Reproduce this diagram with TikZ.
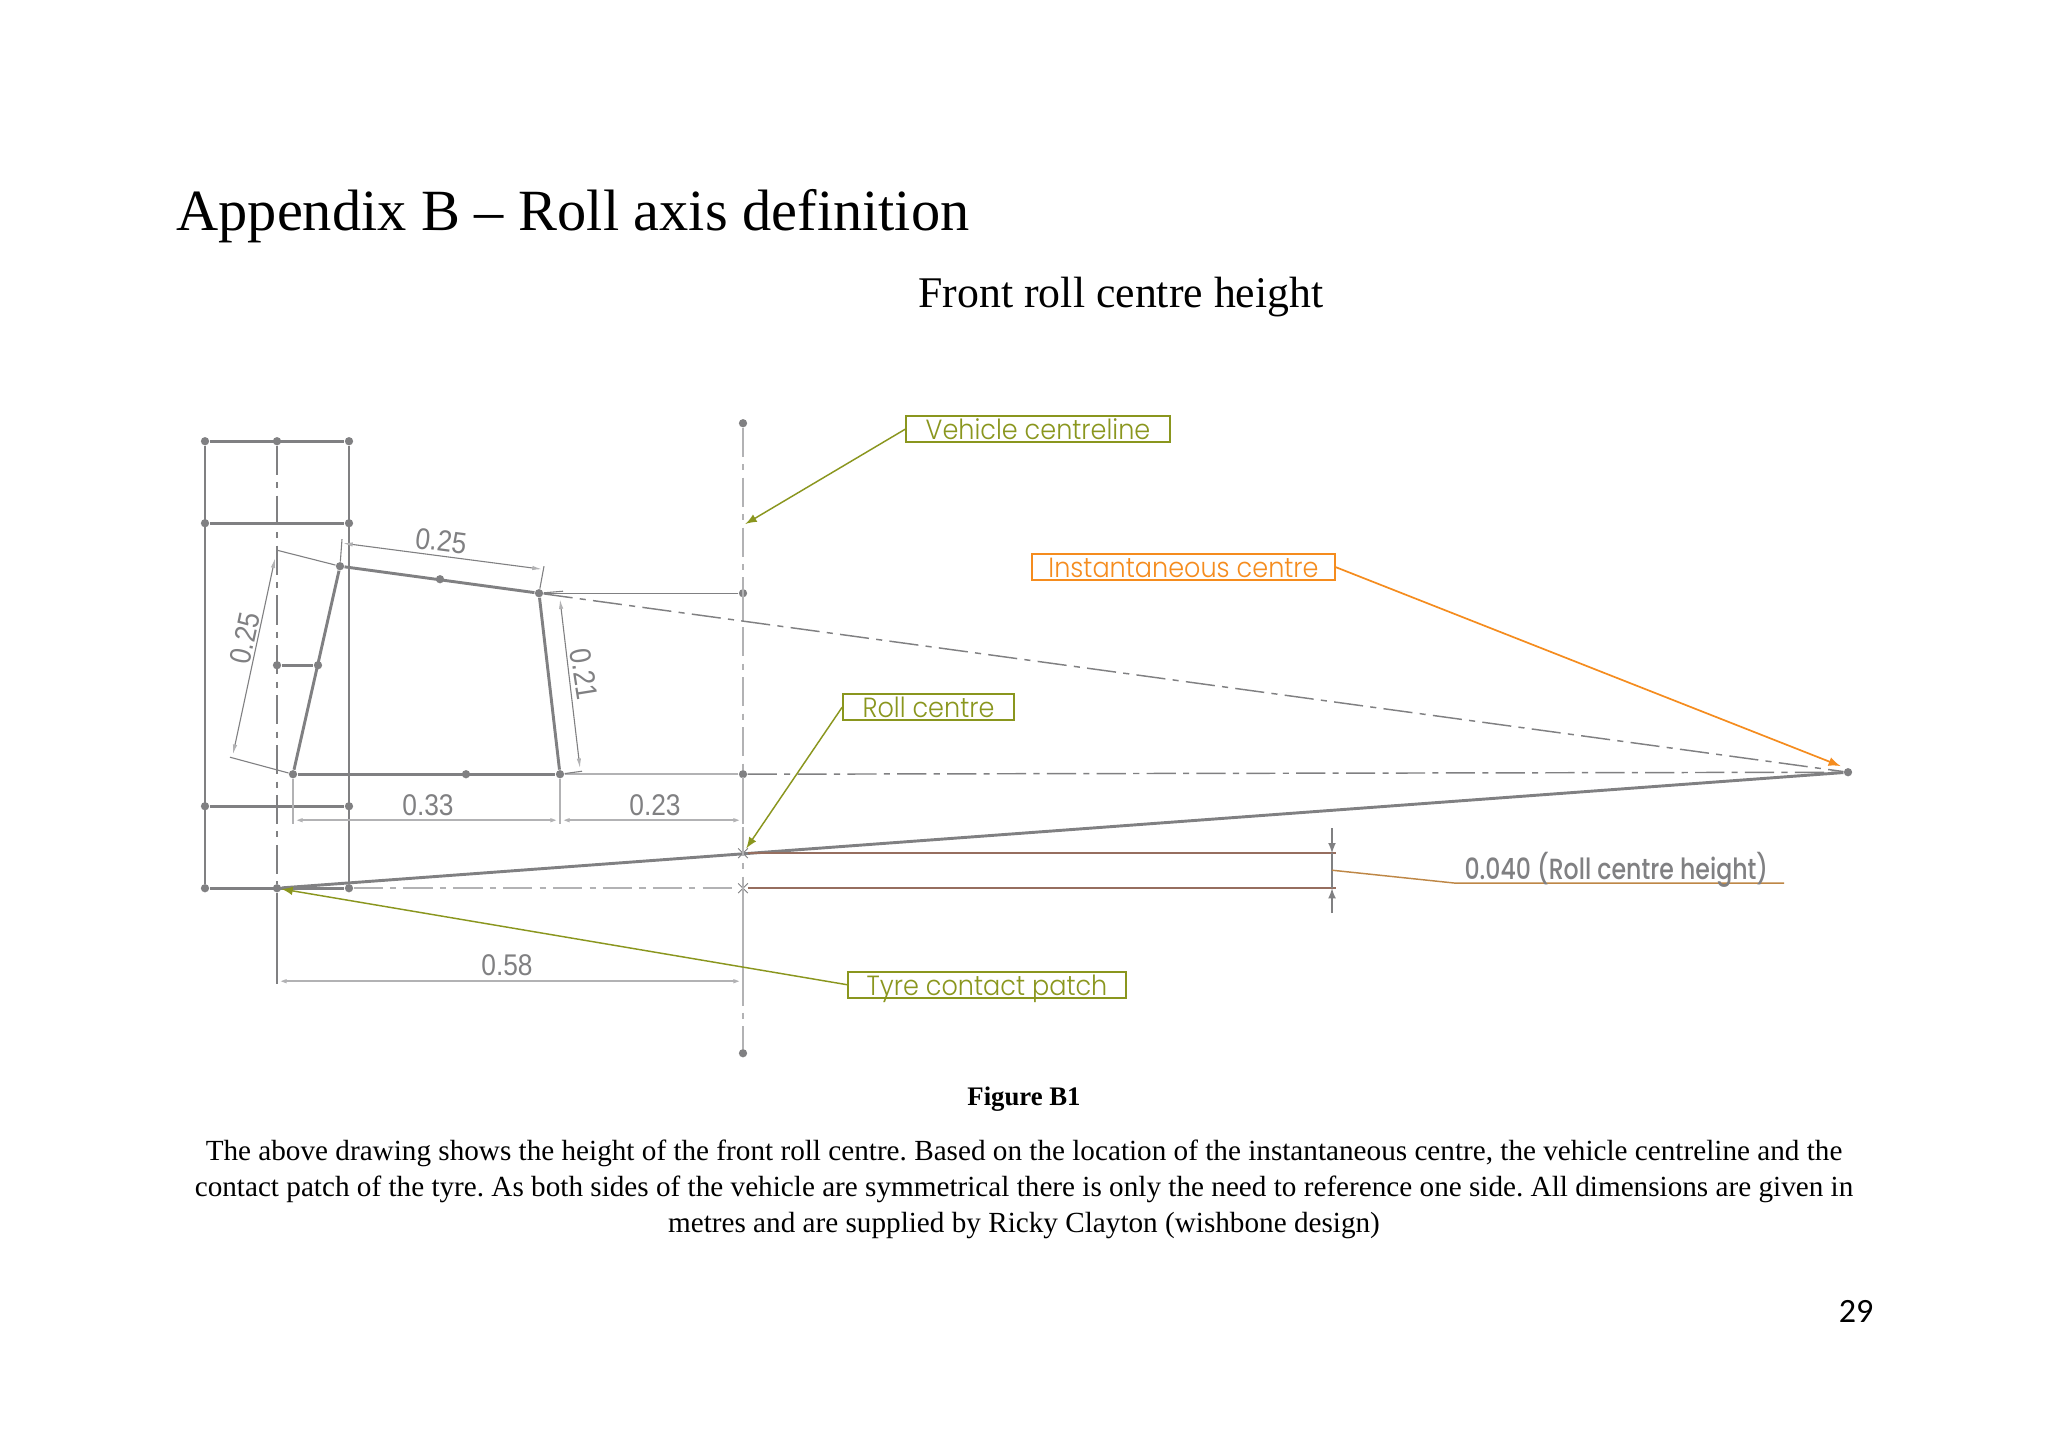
\documentclass[tikz,border=0pt]{standalone}
\usepackage{fontspec}
\setmainfont{Liberation Serif}
\newfontfamily\lblfont[FakeStretch=0.92]{Poppins Light}
\newfontfamily\dimfont{Liberation Sans}
\newfontfamily\heightfont[FakeStretch=0.81]{Poppins Medium}
\newfontfamily\pagefont{Carlito}
\usetikzlibrary{shapes.misc, arrows.meta}
\definecolor{lineolive}{RGB}{138,150,30}
\definecolor{lineorange}{RGB}{245,140,30}
\definecolor{linegray}{RGB}{128,128,130}
\definecolor{dimgray}{RGB}{178,178,180}
\definecolor{linebrown}{RGB}{150,110,95}
\definecolor{leadbrown}{RGB}{190,135,70}
\newcommand{\dimval}[1]{\scalebox{0.88}[1]{#1}}

\begin{document}
\begin{tikzpicture}[x=0.4111pt, y=-0.4111pt,
        dimtip/.tip={Latex[length=4pt, width=1.8pt, color=dimgray]},
        joint/.style={circle, fill=linegray, inner sep=0pt, minimum size=3.4pt},
        spot/.style={inner sep=0pt, minimum size=0pt},
        crossmark/.style={cross out, draw=linegray, inner sep=0pt, minimum size=3.6pt,
            line width=0.4pt},
        member/.style={draw=linegray, line width=1.2pt},
        tyreline/.style={draw=linegray, line width=1.35pt},
        thinline/.style={draw=linegray, line width=0.45pt},
        extline/.style={draw=dimgray, line width=0.7pt},
        dimline/.style={draw=dimgray, line width=0.8pt, {dimtip}-{dimtip}},
        centreline/.style={draw=linegray, line width=0.6pt,
            dash pattern=on 12pt off 3pt on 2.5pt off 3pt},
        palecentre/.style={draw=dimgray, line width=1pt,
            dash pattern=on 12pt off 3pt on 2.5pt off 3pt},
        tag/.style={rectangle, line width=0.7pt, inner sep=0pt, minimum height=10.7pt,
            text height=9.2pt, text depth=0.6pt, font=\lblfont\fontsize{11.4}{12}\selectfont},
        tagolive/.style={tag, draw=lineolive, text=lineolive},
        tagorange/.style={tag, draw=lineorange, text=lineorange},
        leadolive/.style={draw=lineolive, line width=0.6pt, -latex},
        leadorange/.style={draw=lineorange, line width=0.7pt, -latex},
        dimtext/.style={text=linegray, inner sep=0pt,
            font=\dimfont\fontsize{12.3}{14}\selectfont},
    ]

    \useasboundingbox (0,0) rectangle (2048,1448);
    \fill[white] (0,0) rectangle (2048,1448);

    % page text
    \node[anchor=base west, inner sep=0pt, font=\fontsize{24}{28}\selectfont] (title)
    at (176,231) {Appendix B -- Roll axis definition};
    \node[anchor=base, inner sep=0pt, font=\fontsize{18}{22}\selectfont] (subtitle)
    at (1121,308) {Front roll centre height};
    \node[inner sep=0pt, font=\fontsize{11}{13}\selectfont\bfseries] (figname)
    at (1024,1099) {Figure B1};
    \node[inner sep=0pt, align=center, font=\fontsize{12}{14.8}\selectfont\frenchspacing] (caption)
    at (1024,1189) {The above drawing shows the height of the front roll centre. Based on the
        location of the instantaneous centre, the vehicle centreline and the\\
        contact patch of the tyre. As both sides of the vehicle are symmetrical there is only
        the need to reference one side. All dimensions are given in\\
        metres and are supplied by Ricky Clayton (wishbone design)};
    \node[inner sep=0pt, font=\pagefont\fontsize{14}{16}\selectfont] (pagenum)
    at (1856,1311) {29};

    \begin{scope}[yshift=-0.5pt]
    % tyre
    \node[joint] (tyreTL) at (205,440) {};
    \node[joint] (tyreTM) at (277,440) {};
    \node[joint] (tyreTR) at (349,440) {};
    \node[joint] (rimTL) at (205,522) {};
    \node[joint] (rimTR) at (349,522) {};
    \node[joint] (rimBL) at (205,805) {};
    \node[joint] (rimBR) at (349,805) {};
    \node[joint] (tyreBL) at (205,887) {};
    \node[joint] (patch) at (277,887) {};
    \node[joint] (tyreBR) at (349,887) {};

    % wishbones and upright
    \node[joint] (upperIn) at (340,565) {};
    \node[joint] (upperMid) at (440,578) {};
    \node[joint] (upperOut) at (539,592) {};
    \node[joint] (lowerIn) at (293,773) {};
    \node[joint] (lowerMid) at (466,773) {};
    \node[joint] (lowerOut) at (560,773) {};
    \node[joint] (hubIn) at (277,664) {};
    \node[joint] (hubOut) at (318,664) {};

    % centreline
    \node[joint] (clTop) at (743,422) {};
    \node[joint] (clUpper) at (743,592) {};
    \node[joint] (clLower) at (743,773) {};
    \node[joint] (clBottom) at (743,1052) {};
    \node[spot] (clCross) at (743,620) {};
    \node[spot] (clTarget) at (745,523) {};
    \node[crossmark] (rollpt) at (743,852) {};
    \node[crossmark] (groundpt) at (743,887) {};
    \node[spot] (clEnd) at (743,997) {};
    \node[joint] (instant) at (1848,771) {};
    \node[spot] (instTarget) at (1841,765) {};

    % tags
    \node[tagolive, minimum width=108.5pt] (vehicle) at (1038,428) {Vehicle centreline};
    \node[tagorange, minimum width=124.6pt] (instantaneous) at (1183.5,566) {Instantaneous centre};
    \node[tagolive, minimum width=70.3pt] (roll) at (928.5,706) {Roll centre};
    \node[tagolive, minimum width=114.3pt] (tyrepatch) at (987,983.5) {Tyre contact patch};

    % extension line ends
    \coordinate (upperExtL) at (342,538);
    \coordinate (upperExtR) at (544,565);
    \coordinate (sideExtT) at (277,549);
    \coordinate (sideExtB) at (230,756);
    \coordinate (rightExtT) at (563,590);
    \coordinate (rightExtB) at (582,770);
    \coordinate (lowerExtL) at (293,823);
    \coordinate (lowerExtR) at (560,823);
    \coordinate (lowerExtC) at (743,823);
    \coordinate (patchExt) at (277,983);

    % dimension line ends
    \coordinate (dimTopL) at (343,542);
    \coordinate (dimTopR) at (542,568);
    \coordinate (dimSideT) at (275,557);
    \coordinate (dimSideB) at (233,753);
    \coordinate (dimRightT) at (560,598);
    \coordinate (dimRightB) at (580,767);
    \coordinate (dimA) at (293,819);
    \coordinate (dimB) at (560,819);
    \coordinate (dimC) at (743,819);
    \coordinate (dimD) at (277,980);
    \coordinate (dimE) at (743,980);

    % roll centre height dimension
    \coordinate (heightTop) at (1332,827);
    \coordinate (heightUp) at (1332,852);
    \coordinate (heightDown) at (1332,887);
    \coordinate (heightBottom) at (1332,912);
    \coordinate (heightWitU) at (1336,852);
    \coordinate (heightWitL) at (1336,887);
    \coordinate (leadA) at (1332,869);
    \coordinate (leadB) at (1456,882);
    \coordinate (leadC) at (1784,882);

    % tyre lines
    \draw[tyreline] (tyreTL) -- (tyreTR);
    \draw[tyreline] (rimTL) -- (rimTR);
    \draw[tyreline] (rimBL) -- (rimBR);
    \draw[tyreline] (tyreBL) -- (tyreBR);
    \draw[member] (tyreTL) -- (tyreBL);
    \draw[member] (tyreTR) -- (tyreBR);
    \draw[centreline] (tyreTM) -- (patch);

    % suspension
    \draw[member] (upperIn) -- (upperOut);
    \draw[member] (lowerIn) -- (lowerOut);
    \draw[member] (upperIn) -- (lowerIn);
    \draw[member] (upperOut) -- (lowerOut);
    \draw[tyreline] (hubIn) -- (hubOut);
    \draw[member] (patch) -- (instant);

    % construction lines
    \draw[palecentre] (clTop) -- (clBottom);
    \draw[extline] (clUpper) -- (clCross);
    \draw[extline] (clLower) -- (lowerExtC);
    \draw[extline] (groundpt) -- (clEnd);
    \draw[extline] (lowerOut) -- (clLower);
    \draw[thinline] (upperOut) -- (clUpper);
    \draw[centreline] (upperOut) -- (instant);
    \draw[centreline] (clLower) -- (instant);
    \draw[palecentre] (tyreBR) -- (groundpt);

    % dimensions
    \draw[thinline] (upperIn) -- (upperExtL);
    \draw[thinline] (upperOut) -- (upperExtR);
    \draw[thinline] (upperIn) -- (sideExtT);
    \draw[thinline] (lowerIn) -- (sideExtB);
    \draw[thinline] (upperOut) -- (rightExtT);
    \draw[thinline] (lowerOut) -- (rightExtB);
    \draw[extline] (lowerIn) -- (lowerExtL);
    \draw[extline] (lowerOut) -- (lowerExtR);
    \draw[thinline] (patch) -- (patchExt);
    \draw[thinline, {dimtip}-{dimtip}] (dimTopL) -- (dimTopR);
    \draw[thinline, {dimtip}-{dimtip}] (dimSideT) -- (dimSideB);
    \draw[thinline, {dimtip}-{dimtip}] (dimRightT) -- (dimRightB);
    \draw[dimline] (dimA) -- (dimB);
    \draw[dimline] (dimB) -- (dimC);
    \draw[dimline] (dimD) -- (dimE);
    \node[dimtext, rotate=-7.5] (dimWishTop) at (441,540) {\dimval{0.25}};
    \node[dimtext, rotate=78] (dimWishSide) at (245,637) {\dimval{0.25}};
    \node[dimtext, rotate=-81] (dimWishRight) at (584,673) {\dimval{0.21}};
    \node[dimtext] (dimLower) at (428,804) {\dimval{0.33}};
    \node[dimtext] (dimInner) at (655,804) {\dimval{0.23}};
    \node[dimtext] (dimPatch) at (507,964) {\dimval{0.58}};

    % roll centre height
    \draw[draw=linebrown, line width=0.8pt] (rollpt) -- (heightWitU);
    \draw[draw=linebrown, line width=0.8pt] (groundpt) -- (heightWitL);
    \draw[thinline, -latex] (heightTop) -- (heightUp);
    \draw[thinline, -latex] (heightBottom) -- (heightDown);
    \draw[thinline] (heightUp) -- (heightDown);
    \draw[draw=leadbrown, line width=0.6pt] (leadA) -- (leadB) -- (leadC);
    \node[text=linegray, inner sep=0pt, anchor=west,
        font=\heightfont\fontsize{12}{13}\selectfont] (heightlabel)
    at (1464,869) {0.040 (Roll centre height)};

    % leaders
    \draw[leadolive] (vehicle.west) -- (clTarget);
    \draw[leadorange] (instantaneous.east) -- (instTarget);
    \draw[leadolive] (roll.west) -- (rollpt);
    \draw[leadolive] (tyrepatch.west) -- (patch);
    \end{scope}
\end{tikzpicture}
\end{document}
